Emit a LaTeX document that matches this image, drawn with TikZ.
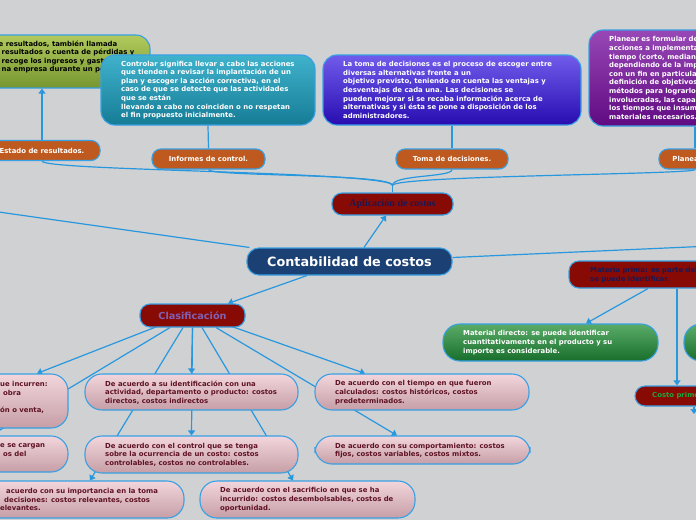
\documentclass[tikz,border=0pt]{standalone}
\usepackage{fontspec}
\setmainfont{DejaVu Sans}
\newfontfamily\serifb{Liberation Serif}
\usetikzlibrary{arrows.meta,calc}
\pgfdeclarelayer{bg}
\pgfdeclarelayer{conns}
\pgfsetlayers{bg,conns,main}
\definecolor{bgc}{RGB}{208,209,211}
\definecolor{lineblue}{RGB}{40,152,222}
\definecolor{bord}{RGB}{56,160,228}
\definecolor{orng}{RGB}{190,90,32}
\definecolor{dred}{RGB}{136,10,5}
\definecolor{mainblue}{RGB}{27,64,115}
\definecolor{tealT}{RGB}{64,178,204}
\definecolor{tealB}{RGB}{22,124,150}
\definecolor{bluT}{RGB}{112,92,236}
\definecolor{bluB}{RGB}{40,12,176}
\definecolor{vioT}{RGB}{152,72,182}
\definecolor{vioB}{RGB}{96,10,130}
\definecolor{olT}{RGB}{178,202,92}
\definecolor{olB}{RGB}{118,150,48}
\definecolor{grT}{RGB}{90,172,104}
\definecolor{grB}{RGB}{24,110,44}
\definecolor{pinkT}{RGB}{242,214,220}
\definecolor{pinkB}{RGB}{198,158,166}
\definecolor{pinktxt}{RGB}{95,18,35}
\definecolor{navy}{RGB}{28,24,82}
\definecolor{clviolet}{RGB}{128,96,178}
\definecolor{cpgreen}{RGB}{30,165,60}
\tikzset{
  conn/.style={draw=lineblue, line width=1.2pt},
  arr/.style={conn, -{Triangle[width=7pt,length=5pt]}},
  boxbase/.style={draw=bord, line width=1.1pt, inner sep=0pt},
  bigbox/.style={boxbase, rounded corners=14pt},
  olivebox/.style={bigbox, top color=olT, bottom color=olB},
  tealbox/.style={bigbox, top color=tealT, bottom color=tealB},
  bluebox/.style={bigbox, top color=bluT, bottom color=bluB},
  violbox/.style={bigbox, top color=vioT, bottom color=vioB},
  greenbox/.style={boxbase, rounded corners=17pt, top color=grT, bottom color=grB},
  pinkbox/.style={boxbase, rounded corners=17pt, top color=pinkT, bottom color=pinkB},
  orangebox/.style={boxbase, rounded corners=9pt, fill=orng, minimum height=20pt, text=white, font=\bfseries\fontsize{6.9}{8.6}\selectfont},
  redbox/.style={boxbase, rounded corners=10pt, fill=dred},
  mainbox/.style={boxbase, rounded corners=12pt, fill=mainblue, text=white, font=\bfseries\fontsize{12.8}{15}\selectfont},
  txt/.style={anchor=west, align=left, inner sep=0pt, font=\bfseries\fontsize{6.9}{8.6}\selectfont},
}
\begin{document}
\begin{tikzpicture}[x=1pt,y=-1pt]
\useasboundingbox (0,0) rectangle (696,520);
\begin{pgfonlayer}{bg}
\fill[bgc] (0,0) rectangle (696,520);
\end{pgfonlayer}

% top row
\node[olivebox, minimum width=216pt, minimum height=53pt] (ol) at (42,61.5) {};
\node[txt, text=black] (olt) at (-1.5,57) {e resultados, también llamada\\\hspace*{3pt}resultados o cuenta de pérdidas y\\\hspace*{3pt}recoge los ingresos y gastos\\\hspace*{3pt}na empresa durante un pe};
\node[tealbox, minimum width=214pt, minimum height=70pt] (te) at (208,90) {};
\node[txt, text=white] (tet) at (121,90) {Controlar significa llevar a cabo las acciones\\que tienden a revisar la implantación de un\\plan y escoger la acción correctiva, en el\\caso de que se detecte que las actividades\\que se están\\llevando a cabo no coinciden o no respetan\\el fin propuesto inicialmente.};
\node[bluebox, minimum width=258pt, minimum height=70pt] (pu) at (452,90) {};
\node[txt, text=white] (put) at (343,90) {La toma de decisiones es el proceso de escoger entre\\diversas alternativas frente a un\\objetivo previsto, teniendo en cuenta las ventajas y\\desventajas de cada una. Las decisiones se\\pueden mejorar si se recaba información acerca de\\alternativas y si ésta se pone a disposición de los\\administradores.};
\node[violbox, minimum width=212pt, minimum height=96pt] (pv) at (695,78) {};
\node[txt, text=white] (pvt) at (609,78) {Planear es formular de\\acciones a implementa\\tiempo (corto, median\\dependiendo de la imp\\con un fin en particula\\definición de objetivos\\métodos para lograrlo\\involucradas, las capa\\los tiempos que insum\\materiales necesarios.};

% orange labels
\node[orangebox, minimum width=116pt] (est) at (42,150.5) {Estado de resultados.};
\node[orangebox, minimum width=113pt] (inf) at (208.5,159) {Informes de control.};
\node[orangebox, minimum width=112pt] (tom) at (452,159) {Toma de decisiones.};
\node[orangebox, minimum width=72pt] (pla) at (695,159) {Planeación.};

% centre
\node[redbox, minimum width=121pt, minimum height=22pt, text=navy, font=\serifb\bfseries\fontsize{10}{12}\selectfont] (apl) at (392.5,204) {Aplicación de costos};
\node[mainbox, minimum width=205pt, minimum height=27pt] (main) at (349.5,261.5) {Contabilidad de costos};
\node[redbox, minimum width=105pt, minimum height=23pt, text=clviolet, font=\bfseries\fontsize{9.7}{11}\selectfont] (cl) at (192.5,315.5) {Clasificación};

% right side
\node[redbox, minimum width=214pt, minimum height=27pt] (mp) at (676,274.5) {};
\node[txt, text=navy] (mpt) at (590,275) {Materia prima: es parte del\\se puede identificar.};
\node[greenbox, minimum width=215pt, minimum height=37pt] (md) at (550.5,342.5) {};
\node[txt, text=white] (mdt) at (463,342.5) {Material directo: se puede identificar\\cuantitativamente en el producto y su\\importe es considerable.};
\node[greenbox, minimum width=215pt, minimum height=37pt] (gr) at (791.5,342.5) {};
\node[redbox, minimum width=165pt, minimum height=20pt] (cp) at (717.5,396) {};
\node[txt, text=cpgreen] (cpt) at (652,396) {Costo primo};

% pink boxes
\node[pinkbox, minimum width=214pt, minimum height=54pt] (b16) at (-39,401) {};
\node[txt, text=pinktxt] (t16) at (0,397.5) {ue incurren:\\\hspace*{3pt}obra\\\mbox{}\\ón o venta,};
\node[pinkbox, minimum width=213pt, minimum height=36pt] (b17) at (191.5,392) {};
\node[txt, text=pinktxt] (t17) at (105,392.5) {De acuerdo a su identificación con una\\actividad, departamento o producto: costos\\directos, costos indirectos};
\node[pinkbox, minimum width=214pt, minimum height=36pt] (b18) at (-39,454) {};
\node[txt, text=pinktxt] (t18) at (0,450) {e se cargan\\\hspace*{3pt}os del};
\node[pinkbox, minimum width=213pt, minimum height=37pt] (b19) at (191.5,454.5) {};
\node[txt, text=pinktxt] (t19) at (105,454.5) {De acuerdo con el control que se tenga\\sobre la ocurrencia de un costo: costos\\controlables, costos no controlables.};
\node[pinkbox, minimum width=214pt, minimum height=37pt] (b20) at (77,499.5) {};
\node[txt, text=pinktxt] (t20) at (0,499.5) {\hspace*{6pt}acuerdo con su importancia en la toma\\\hspace*{4pt}decisiones: costos relevantes, costos\\elevantes.};
\node[pinkbox, minimum width=215pt, minimum height=37pt] (b21) at (307.5,499.5) {};
\node[txt, text=pinktxt] (t21) at (220,499.5) {De acuerdo con el sacrificio en que se ha\\incurrido: costos desembolsables, costos de\\oportunidad.};
\node[pinkbox, minimum width=214pt, minimum height=36pt] (b22) at (422,392) {};
\node[txt, text=pinktxt] (t22) at (335,392.5) {De acuerdo con el tiempo en que fueron\\calculados: costos históricos, costos\\predeterminados.};
\node[pinkbox, minimum width=215pt, minimum height=28pt] (b23) at (422.5,450) {};
\node[txt, text=pinktxt] (t23) at (335,450.5) {De acuerdo con su comportamiento: costos\\fijos, costos variables, costos mixtos.};

% connectors
\begin{pgfonlayer}{conns}
\coordinate (jn) at ([yshift=7pt]apl.north);
\coordinate (offL) at (-5,211.5);
\coordinate (offR) at (700,246.5);
\coordinate (cpd) at (694,414);
\draw[conn] (jn) -- (apl.north);
\draw[conn] (est.south) .. controls ([yshift=-10pt]est.south) and ([yshift=14pt]jn) .. (jn);
\draw[conn] (inf.south) .. controls ([yshift=-7pt]inf.south) and ([yshift=12pt]jn) .. (jn);
\draw[conn] (tom.south) .. controls ([yshift=-8pt]tom.south) and ([yshift=11pt]jn) .. (jn);
\draw[conn] (pla.south) .. controls ([yshift=-5pt]pla.south) and ([yshift=10pt]jn) .. (jn);
\draw[arr] (est.north) -- (ol.south);
\draw[conn] (inf.north) -- (te.south);
\draw[conn] (tom.north) -- (pu.south);
\draw[conn] (pla.north) -- (pv.south);
\draw[arr] ([xshift=14.5pt]main.north) -- ([xshift=-6.5pt]apl.south);
\draw[arr] ([xshift=-42.5pt]main.south) -- ([xshift=35.5pt]cl.north);
\draw[conn] ([xshift=3pt]main.north west) -- (offL);
\draw[conn] ([yshift=4pt]main.east) -- (offR);
% Clasificacion branches
\draw[arr] ([xshift=-35.5pt,yshift=1pt]cl.south) -- ([xshift=76pt]b16.north);
\draw[arr] ([xshift=-22.5pt]cl.south) -- ([xshift=30pt]b18.north);
\draw[arr] ([xshift=-9.5pt]cl.south) -- ([xshift=13pt]b20.north);
\draw[arr] (cl.south) -- (b17.north);
\draw[arr] (cl.south) -- (b19.north);
\draw[arr] ([xshift=9.5pt]cl.south) -- ([xshift=-14.5pt]b21.north);
\draw[arr] ([xshift=23.5pt]cl.south) -- ([xshift=-25.5pt]b23.north);
\draw[arr] ([xshift=39.5pt,yshift=1pt]cl.south) -- ([xshift=-57pt]b22.north);
% right side
\draw[arr] ([xshift=-28pt]mp.south) -- ([xshift=35.5pt]md.north);
\draw[arr] ([xshift=1pt]mp.south) -- ([xshift=-40.5pt]cp.north);
\draw[arr] ([xshift=-23.5pt]cp.south) -- (cpd);
\end{pgfonlayer}
\end{tikzpicture}
\end{document}
